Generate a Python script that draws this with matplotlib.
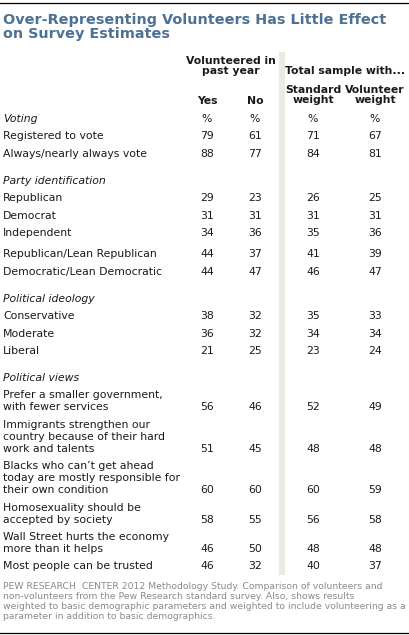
import matplotlib.pyplot as plt
from matplotlib.patches import Rectangle

# table contents
title = "Over-Representing Volunteers Has Little Effect\non Survey Estimates"
sections = ["Voting", "Party identification", "Political ideology", "Political views"]
row_labels = [
    ["Registered to vote", "Always/nearly always vote"],
    ["Republican", "Democrat", "Independent",
     "Republican/Lean Republican", "Democratic/Lean Democratic"],
    ["Conservative", "Moderate", "Liberal"],
    ["Prefer a smaller government,\nwith fewer services",
     "Immigrants strengthen our\ncountry because of their hard\nwork and talents",
     "Blacks who can\u2019t get ahead\ntoday are mostly responsible for\ntheir own condition",
     "Homosexuality should be\naccepted by society",
     "Wall Street hurts the economy\nmore than it helps",
     "Most people can be trusted"],
]
yes_vals = [79, 88, 29, 31, 34, 44, 44, 38, 36, 21, 56, 51, 60, 58, 46, 46]
no_vals = [61, 77, 23, 31, 36, 37, 47, 32, 32, 25, 46, 45, 60, 55, 50, 32]
std_vals = [71, 84, 26, 31, 35, 41, 46, 35, 34, 23, 52, 48, 60, 56, 48, 40]
vol_vals = [67, 81, 25, 31, 36, 39, 47, 33, 34, 24, 49, 48, 59, 58, 48, 37]
extra_gap = {"Republican/Lean Republican"}
note = ("PEW RESEARCH  CENTER 2012 Methodology Study. Comparison of volunteers and\n"
        "non-volunteers from the Pew Research standard survey. Also, shows results\n"
        "weighted to basic demographic parameters and weighted to include volunteering as a\n"
        "parameter in addition to basic demographics.")

W, H = 409, 635
fig = plt.figure(figsize=(W / 100, H / 100), dpi=100)
ax = fig.add_axes([0, 0, 1, 1])
ax.set_xlim(0, W)
ax.set_ylim(H, 0)
ax.axis('off')

fs = 7.85
txt = '#1a1a1a'
cols = [207, 255, 313, 375]   # column centres
step = 17.4       # row to row
lh = 12           # line height inside a wrapped label
sec_gap = 27

ax.plot([0, W], [3, 3], color='black', lw=0.9)
ax.plot([0, W], [633, 633], color='black', lw=0.9)
ax.text(3, 27, title, fontsize=10.4, fontweight='bold', color='#4d7192',
        va='center', ha='left', linespacing=1.05)

ax.add_patch(Rectangle((279, 52), 6, 523, color='#ece9e1', lw=0))

# column headers
hb = dict(fontsize=fs, fontweight='bold', color=txt, ha='center', va='center')
ax.text(231, 66, "Volunteered in\npast year", linespacing=1.05, **hb)
ax.text(345, 71, "Total sample with...", **hb)
ax.text(cols[0], 101, "Yes", **hb)
ax.text(cols[1], 101, "No", **hb)
ax.text(cols[2], 95, "Standard\nweight", linespacing=1.05, **hb)
ax.text(cols[3], 95, "Volunteer\nweight", linespacing=1.05, **hb)

y = 119
k = 0
for i, sec in enumerate(sections):
    if i > 0:
        y += sec_gap
    ax.text(3, y, sec, fontsize=fs, style='italic', color=txt, va='center')
    if i == 0:
        for c in cols:
            ax.text(c, y, "%", fontsize=fs, color=txt, ha='center', va='center')
    for lab in row_labels[i]:
        y += step + (4 if lab in extra_gap else 0)
        lines = lab.split("\n")
        for j, ln in enumerate(lines):
            ax.text(3, y + j * lh, ln, fontsize=fs, color=txt, va='center')
        y += lh * (len(lines) - 1)
        for c, vals in zip(cols, [yes_vals, no_vals, std_vals, vol_vals]):
            ax.text(c, y, str(vals[k]), fontsize=fs, color=txt, ha='center', va='center')
        k += 1

ax.text(3, 582, note, fontsize=6.65, color='#8a8a8a', va='top', ha='left', linespacing=1.12)

fig.savefig('out.png', dpi=100)
